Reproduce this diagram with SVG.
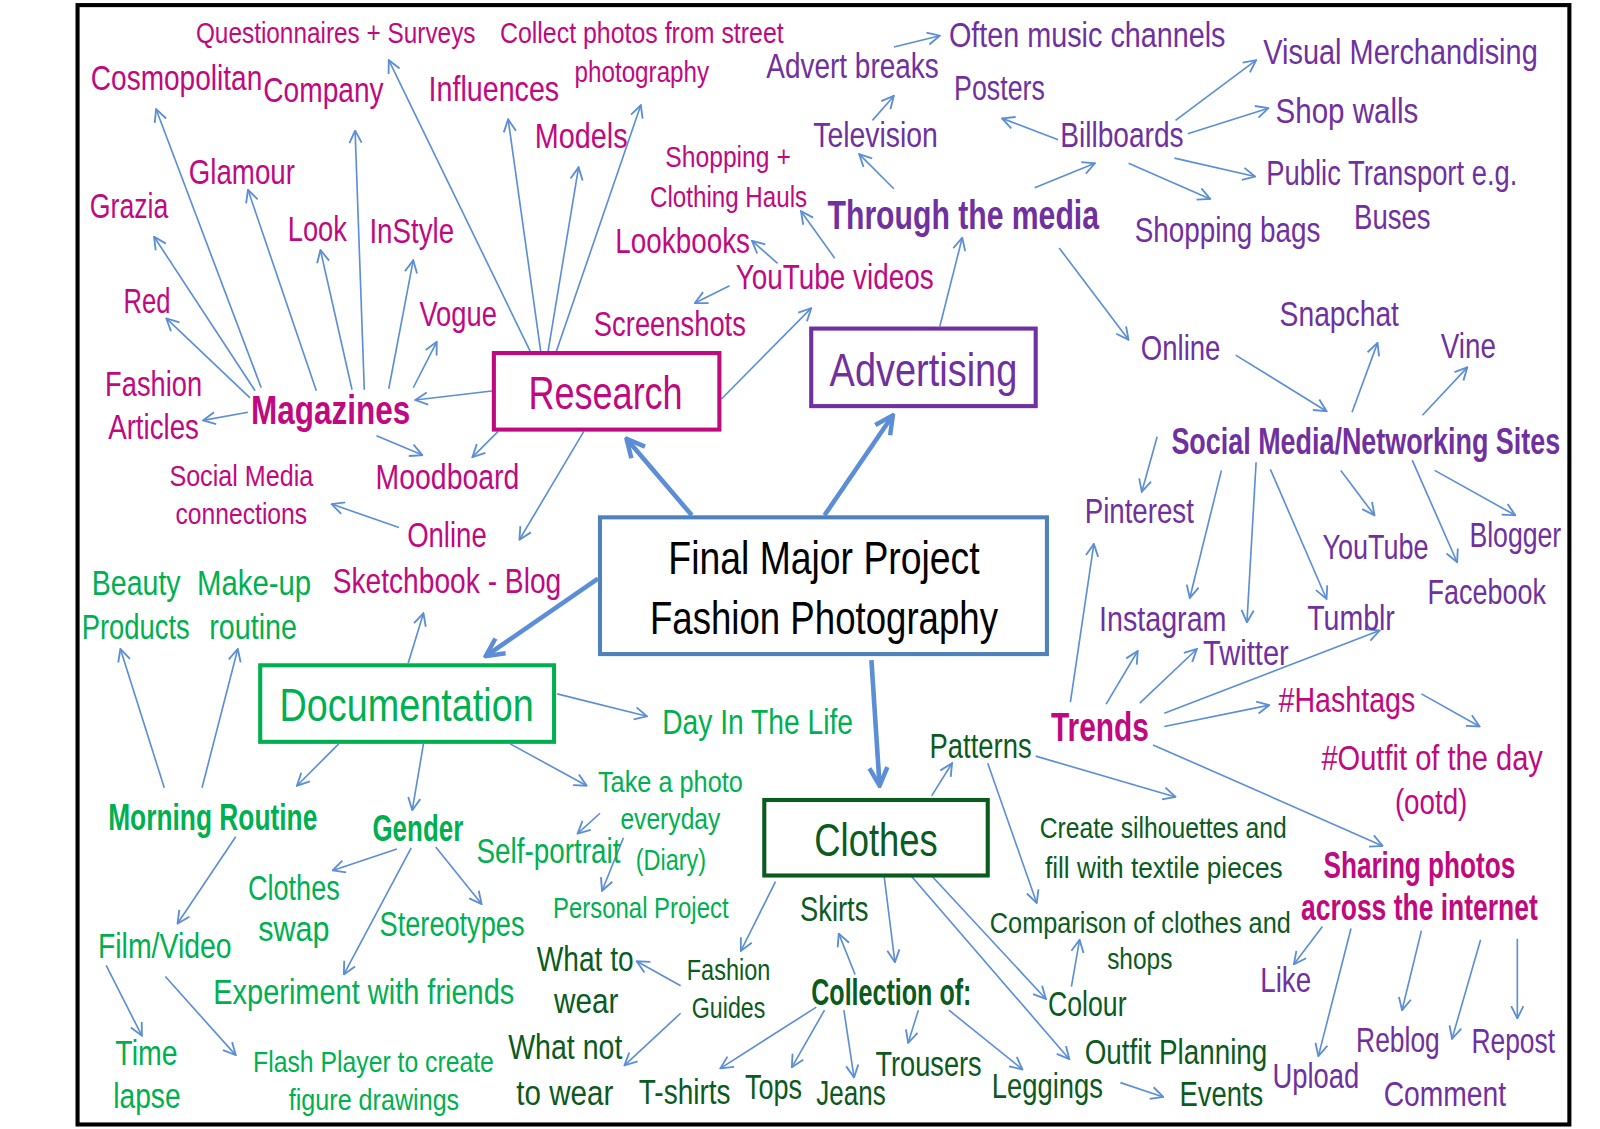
<svg xmlns="http://www.w3.org/2000/svg" width="1600" height="1129" viewBox="0 0 1600 1129">
<style>
text{font-family:'Liberation Sans Narrow','Liberation Sans',Arial,sans-serif;}
.m{fill:#C0097F}.p{fill:#7030A0}.g{fill:#00B050}.d{fill:#0B5A1E}.k{fill:#000}
.s29{font-size:29px}.s34{font-size:34px}.s36{font-size:36px}.s40{font-size:40px}.s46{font-size:46px}
.b{font-weight:bold}
.c line{stroke:#5B8ED6;stroke-width:1.6;fill:none;marker-end:url(#ah)}
.c line.t{stroke-width:4.5;marker-end:url(#ahb)}
.box{fill:#fff;stroke-width:4}
</style>
<defs>
<marker id="ah" viewBox="0 0 14 14" refX="13" refY="7" markerWidth="14" markerHeight="14" markerUnits="userSpaceOnUse" orient="auto"><path d="M1,1 L13,7 L1,13" fill="none" stroke="#5B8ED6" stroke-width="1.8"/></marker>
<marker id="ahb" viewBox="0 0 20 20" refX="18" refY="10" markerWidth="22" markerHeight="22" markerUnits="userSpaceOnUse" orient="auto"><path d="M2,2 L18,10 L2,18" fill="none" stroke="#5B8ED6" stroke-width="4"/></marker>
</defs>
<rect x="0" y="0" width="1600" height="1129" fill="#fff"/>
<g id="diagram" transform="scale(1.0204)">
<rect x="76" y="5" width="1462" height="1097" fill="none" stroke="#000" stroke-width="4"/>

<g id="connectors" class="c">
<line class="t" x1="678" y1="505" x2="614" y2="430"/>
<line class="t" x1="808" y1="505" x2="875" y2="407"/>
<line class="t" x1="586" y1="567" x2="476" y2="643"/>
<line class="t" x1="854" y1="647" x2="862" y2="770"/>
<line x1="520" y1="345" x2="381" y2="59"/>
<line x1="530" y1="345" x2="498" y2="117"/>
<line x1="537" y1="345" x2="567" y2="164"/>
<line x1="545" y1="345" x2="628" y2="103"/>
<line x1="484" y1="383" x2="407" y2="392"/>
<line x1="488" y1="423" x2="463" y2="448"/>
<line x1="572" y1="423" x2="509" y2="529"/>
<line x1="707" y1="391" x2="795" y2="302"/>
<line x1="256" y1="380" x2="153" y2="107"/>
<line x1="250" y1="383" x2="151" y2="232"/>
<line x1="245" y1="390" x2="163" y2="312"/>
<line x1="243" y1="404" x2="199" y2="412"/>
<line x1="310" y1="383" x2="243" y2="186"/>
<line x1="357" y1="382" x2="348" y2="128"/>
<line x1="345" y1="382" x2="314" y2="245"/>
<line x1="381" y1="381" x2="405" y2="255"/>
<line x1="405" y1="380" x2="428" y2="335"/>
<line x1="369" y1="427" x2="414" y2="446"/>
<line x1="391" y1="517" x2="325" y2="494"/>
<line x1="762" y1="258" x2="737" y2="236"/>
<line x1="818" y1="253" x2="785" y2="207"/>
<line x1="715" y1="280" x2="681" y2="297"/>
<line x1="921" y1="320" x2="943" y2="233"/>
<line x1="876" y1="185" x2="842" y2="151"/>
<line x1="855" y1="118" x2="876" y2="94"/>
<line x1="876" y1="46" x2="921" y2="35"/>
<line x1="1014" y1="184" x2="1073" y2="160"/>
<line x1="1037" y1="137" x2="982" y2="116"/>
<line x1="1152" y1="118" x2="1231" y2="59"/>
<line x1="1164" y1="131" x2="1243" y2="106"/>
<line x1="1151" y1="155" x2="1230" y2="173"/>
<line x1="1106" y1="160" x2="1186" y2="195"/>
<line x1="1038" y1="243" x2="1106" y2="333"/>
<line x1="1211" y1="348" x2="1300" y2="403"/>
<line x1="1325" y1="404" x2="1350" y2="336"/>
<line x1="1394" y1="407" x2="1438" y2="360"/>
<line x1="1134" y1="428" x2="1119" y2="482"/>
<line x1="1197" y1="461" x2="1166" y2="586"/>
<line x1="1231" y1="453" x2="1222" y2="610"/>
<line x1="1245" y1="460" x2="1300" y2="587"/>
<line x1="1314" y1="461" x2="1347" y2="505"/>
<line x1="1384" y1="451" x2="1428" y2="551"/>
<line x1="1406" y1="461" x2="1485" y2="505"/>
<line x1="1049" y1="688" x2="1072" y2="533"/>
<line x1="1084" y1="690" x2="1115" y2="638"/>
<line x1="1117" y1="689" x2="1173" y2="636"/>
<line x1="1141" y1="699" x2="1352" y2="618"/>
<line x1="1141" y1="712" x2="1244" y2="691"/>
<line x1="1393" y1="680" x2="1450" y2="712"/>
<line x1="1130" y1="730" x2="1355" y2="829"/>
<line x1="1015" y1="741" x2="1152" y2="781"/>
<line x1="968" y1="748" x2="1016" y2="885"/>
<line x1="913" y1="780" x2="933" y2="748"/>
<line x1="760" y1="864" x2="726" y2="932"/>
<line x1="866" y1="855" x2="877" y2="943"/>
<line x1="838" y1="955" x2="822" y2="915"/>
<line x1="890" y1="855" x2="1048" y2="1038"/>
<line x1="910" y1="855" x2="1025" y2="979"/>
<line x1="1050" y1="967" x2="1058" y2="921"/>
<line x1="667" y1="966" x2="624" y2="942"/>
<line x1="667" y1="993" x2="612" y2="1044"/>
<line x1="800" y1="987" x2="706" y2="1047"/>
<line x1="808" y1="990" x2="776" y2="1046"/>
<line x1="827" y1="990" x2="837" y2="1056"/>
<line x1="900" y1="990" x2="890" y2="1022"/>
<line x1="930" y1="990" x2="1002" y2="1048"/>
<line x1="1098" y1="1061" x2="1140" y2="1075"/>
<line x1="1296" y1="908" x2="1268" y2="945"/>
<line x1="1324" y1="910" x2="1292" y2="1035"/>
<line x1="1393" y1="912" x2="1374" y2="990"/>
<line x1="1451" y1="921" x2="1423" y2="1018"/>
<line x1="1487" y1="920" x2="1487" y2="998"/>
<line x1="546" y1="680" x2="634" y2="702"/>
<line x1="332" y1="729" x2="291" y2="770"/>
<line x1="415" y1="729" x2="404" y2="794"/>
<line x1="500" y1="729" x2="575" y2="770"/>
<line x1="400" y1="650" x2="415" y2="601"/>
<line x1="588" y1="797" x2="566" y2="817"/>
<line x1="611" y1="821" x2="590" y2="873"/>
<line x1="161" y1="772" x2="118" y2="636"/>
<line x1="198" y1="772" x2="233" y2="636"/>
<line x1="231" y1="820" x2="174" y2="905"/>
<line x1="389" y1="832" x2="326" y2="853"/>
<line x1="403" y1="831" x2="337" y2="955"/>
<line x1="427" y1="830" x2="472" y2="886"/>
<line x1="104" y1="946" x2="139" y2="1015"/>
<line x1="162" y1="957" x2="231" y2="1034"/>
</g>

<g id="n-center"><rect class="box" x="588" y="507" width="438" height="134" stroke="#4F81BD"/>
<text class="k s46" x="655" y="563" textLength="305" lengthAdjust="spacingAndGlyphs">Final Major Project</text>
<text class="k s46" x="637" y="621" textLength="341" lengthAdjust="spacingAndGlyphs">Fashion Photography</text></g>
<g id="n-research"><rect class="box" x="484" y="346" width="221" height="75" stroke="#C0097F"/>
<text class="m s46" x="518" y="401" textLength="151" lengthAdjust="spacingAndGlyphs">Research</text></g>
<g id="n-advertising"><rect class="box" x="795" y="322" width="220" height="76" stroke="#7030A0"/>
<text class="p s46" x="813" y="378" textLength="184" lengthAdjust="spacingAndGlyphs">Advertising</text></g>
<g id="n-documentation"><rect class="box" x="255" y="652" width="288" height="75" stroke="#00B050"/>
<text class="g s46" x="274" y="707" textLength="249" lengthAdjust="spacingAndGlyphs">Documentation</text></g>
<g id="n-clothes"><rect class="box" x="749" y="784" width="219" height="74" stroke="#0B5A1E"/>
<text class="d s46" x="798" y="839" textLength="121" lengthAdjust="spacingAndGlyphs">Clothes</text></g>

<g id="n-questionnaires"><text class="m s29" x="192" y="42" textLength="274" lengthAdjust="spacingAndGlyphs">Questionnaires + Surveys</text></g>
<g id="n-collect"><text class="m s29" x="490" y="42" textLength="278" lengthAdjust="spacingAndGlyphs">Collect photos from street</text>
<text class="m s29" x="563" y="80" textLength="132" lengthAdjust="spacingAndGlyphs">photography</text></g>
<g id="n-cosmopolitan"><text class="m s34" x="89" y="88" textLength="168" lengthAdjust="spacingAndGlyphs">Cosmopolitan</text></g>
<g id="n-company"><text class="m s34" x="258" y="100" textLength="118" lengthAdjust="spacingAndGlyphs">Company</text></g>
<g id="n-influences"><text class="m s34" x="420" y="99" textLength="128" lengthAdjust="spacingAndGlyphs">Influences</text></g>
<g id="n-models"><text class="m s34" x="524" y="145" textLength="91" lengthAdjust="spacingAndGlyphs">Models</text></g>
<g id="n-glamour"><text class="m s34" x="185" y="180" textLength="104" lengthAdjust="spacingAndGlyphs">Glamour</text></g>
<g id="n-grazia"><text class="m s34" x="88" y="214" textLength="77" lengthAdjust="spacingAndGlyphs">Grazia</text></g>
<g id="n-look"><text class="m s34" x="282" y="236" textLength="58" lengthAdjust="spacingAndGlyphs">Look</text></g>
<g id="n-instyle"><text class="m s34" x="362" y="238" textLength="83" lengthAdjust="spacingAndGlyphs">InStyle</text></g>
<g id="n-red"><text class="m s34" x="121" y="307" textLength="46" lengthAdjust="spacingAndGlyphs">Red</text></g>
<g id="n-vogue"><text class="m s34" x="411" y="319" textLength="76" lengthAdjust="spacingAndGlyphs">Vogue</text></g>
<g id="n-fashion-articles"><text class="m s34" x="103" y="388" textLength="95" lengthAdjust="spacingAndGlyphs">Fashion</text>
<text class="m s34" x="106" y="430" textLength="89" lengthAdjust="spacingAndGlyphs">Articles</text></g>
<g id="n-magazines"><text class="m s40 b" x="246" y="416" textLength="156" lengthAdjust="spacingAndGlyphs">Magazines</text></g>
<g id="n-moodboard"><text class="m s34" x="368" y="479" textLength="141" lengthAdjust="spacingAndGlyphs">Moodboard</text></g>
<g id="n-socialconn"><text class="m s29" x="166" y="476" textLength="141" lengthAdjust="spacingAndGlyphs">Social Media</text>
<text class="m s29" x="172" y="514" textLength="129" lengthAdjust="spacingAndGlyphs">connections</text></g>
<g id="n-online-r"><text class="m s34" x="399" y="536" textLength="78" lengthAdjust="spacingAndGlyphs">Online</text></g>
<g id="n-sketchbook"><text class="m s34" x="326" y="581" textLength="224" lengthAdjust="spacingAndGlyphs">Sketchbook - Blog</text></g>
<g id="n-screenshots"><text class="m s34" x="582" y="329" textLength="149" lengthAdjust="spacingAndGlyphs">Screenshots</text></g>
<g id="n-hauls"><text class="m s29" x="652" y="164" textLength="123" lengthAdjust="spacingAndGlyphs">Shopping +</text>
<text class="m s29" x="637" y="203" textLength="154" lengthAdjust="spacingAndGlyphs">Clothing Hauls</text></g>
<g id="n-lookbooks"><text class="m s34" x="603" y="248" textLength="132" lengthAdjust="spacingAndGlyphs">Lookbooks</text></g>
<g id="n-youtubevideos"><text class="m s34" x="721" y="283" textLength="194" lengthAdjust="spacingAndGlyphs">YouTube videos</text></g>

<g id="n-often"><text class="p s34" x="930" y="46" textLength="271" lengthAdjust="spacingAndGlyphs">Often music channels</text></g>
<g id="n-advert"><text class="p s34" x="751" y="76" textLength="169" lengthAdjust="spacingAndGlyphs">Advert breaks</text></g>
<g id="n-visual"><text class="p s34" x="1238" y="63" textLength="269" lengthAdjust="spacingAndGlyphs">Visual Merchandising</text></g>
<g id="n-posters"><text class="p s34" x="935" y="98" textLength="89" lengthAdjust="spacingAndGlyphs">Posters</text></g>
<g id="n-shopwalls"><text class="p s34" x="1250" y="121" textLength="140" lengthAdjust="spacingAndGlyphs">Shop walls</text></g>
<g id="n-television"><text class="p s34" x="797" y="144" textLength="122" lengthAdjust="spacingAndGlyphs">Television</text></g>
<g id="n-billboards"><text class="p s34" x="1039" y="144" textLength="121" lengthAdjust="spacingAndGlyphs">Billboards</text></g>
<g id="n-transport"><text class="p s34" x="1241" y="181" textLength="246" lengthAdjust="spacingAndGlyphs">Public Transport e.g.</text>
<text class="p s34" x="1327" y="224" textLength="75" lengthAdjust="spacingAndGlyphs">Buses</text></g>
<g id="n-media"><text class="p s40 b" x="811" y="224" textLength="266" lengthAdjust="spacingAndGlyphs">Through the media</text></g>
<g id="n-bags"><text class="p s34" x="1112" y="237" textLength="182" lengthAdjust="spacingAndGlyphs">Shopping bags</text></g>
<g id="n-snapchat"><text class="p s34" x="1254" y="319" textLength="117" lengthAdjust="spacingAndGlyphs">Snapchat</text></g>
<g id="n-online-a"><text class="p s34" x="1118" y="353" textLength="78" lengthAdjust="spacingAndGlyphs">Online</text></g>
<g id="n-vine"><text class="p s34" x="1412" y="351" textLength="54" lengthAdjust="spacingAndGlyphs">Vine</text></g>
<g id="n-social"><text class="p s36 b" x="1148" y="445" textLength="381" lengthAdjust="spacingAndGlyphs">Social Media/Networking Sites</text></g>
<g id="n-pinterest"><text class="p s34" x="1063" y="513" textLength="107" lengthAdjust="spacingAndGlyphs">Pinterest</text></g>
<g id="n-youtube"><text class="p s34" x="1296" y="548" textLength="104" lengthAdjust="spacingAndGlyphs">YouTube</text></g>
<g id="n-blogger"><text class="p s34" x="1440" y="536" textLength="90" lengthAdjust="spacingAndGlyphs">Blogger</text></g>
<g id="n-facebook"><text class="p s34" x="1399" y="592" textLength="116" lengthAdjust="spacingAndGlyphs">Facebook</text></g>
<g id="n-instagram"><text class="p s34" x="1077" y="618" textLength="125" lengthAdjust="spacingAndGlyphs">Instagram</text></g>
<g id="n-tumblr"><text class="p s34" x="1281" y="617" textLength="86" lengthAdjust="spacingAndGlyphs">Tumblr</text></g>
<g id="n-twitter"><text class="p s34" x="1179" y="652" textLength="84" lengthAdjust="spacingAndGlyphs">Twitter</text></g>
<g id="n-trends"><text class="m s40 b" x="1030" y="726" textLength="96" lengthAdjust="spacingAndGlyphs">Trends</text></g>
<g id="n-hashtags"><text class="m s34" x="1253" y="698" textLength="134" lengthAdjust="spacingAndGlyphs">#Hashtags</text></g>
<g id="n-ootd"><text class="m s34" x="1295" y="755" textLength="217" lengthAdjust="spacingAndGlyphs">#Outfit of the day</text>
<text class="m s34" x="1367" y="798" textLength="71" lengthAdjust="spacingAndGlyphs">(ootd)</text></g>
<g id="n-sharing"><text class="m s36 b" x="1297" y="860" textLength="188" lengthAdjust="spacingAndGlyphs">Sharing photos</text>
<text class="m s36 b" x="1275" y="902" textLength="232" lengthAdjust="spacingAndGlyphs">across the internet</text></g>
<g id="n-like"><text class="p s34" x="1235" y="972" textLength="50" lengthAdjust="spacingAndGlyphs">Like</text></g>
<g id="n-upload"><text class="p s34" x="1247" y="1066" textLength="85" lengthAdjust="spacingAndGlyphs">Upload</text></g>
<g id="n-reblog"><text class="p s34" x="1329" y="1031" textLength="82" lengthAdjust="spacingAndGlyphs">Reblog</text></g>
<g id="n-repost"><text class="p s34" x="1442" y="1032" textLength="82" lengthAdjust="spacingAndGlyphs">Repost</text></g>
<g id="n-comment"><text class="p s34" x="1356" y="1084" textLength="120" lengthAdjust="spacingAndGlyphs">Comment</text></g>

<g id="n-beauty"><text class="g s34" x="90" y="583" textLength="87" lengthAdjust="spacingAndGlyphs">Beauty</text>
<text class="g s34" x="80" y="626" textLength="106" lengthAdjust="spacingAndGlyphs">Products</text></g>
<g id="n-makeup"><text class="g s34" x="193" y="583" textLength="112" lengthAdjust="spacingAndGlyphs">Make-up</text>
<text class="g s34" x="205" y="626" textLength="86" lengthAdjust="spacingAndGlyphs">routine</text></g>
<g id="n-dayinlife"><text class="g s34" x="649" y="719" textLength="187" lengthAdjust="spacingAndGlyphs">Day In The Life</text></g>
<g id="n-takephoto"><text class="g s29" x="586" y="776" textLength="142" lengthAdjust="spacingAndGlyphs">Take a photo</text>
<text class="g s29" x="608" y="812" textLength="98" lengthAdjust="spacingAndGlyphs">everyday</text>
<text class="g s29" x="623" y="853" textLength="69" lengthAdjust="spacingAndGlyphs">(Diary)</text></g>
<g id="n-morning"><text class="g s36 b" x="106" y="813" textLength="205" lengthAdjust="spacingAndGlyphs">Morning Routine</text></g>
<g id="n-gender"><text class="g s36 b" x="365" y="824" textLength="89" lengthAdjust="spacingAndGlyphs">Gender</text></g>
<g id="n-selfportrait"><text class="g s34" x="467" y="846" textLength="141" lengthAdjust="spacingAndGlyphs">Self-portrait</text></g>
<g id="n-clothesswap"><text class="g s34" x="243" y="882" textLength="90" lengthAdjust="spacingAndGlyphs">Clothes</text>
<text class="g s34" x="253" y="922" textLength="70" lengthAdjust="spacingAndGlyphs">swap</text></g>
<g id="n-personal"><text class="g s29" x="542" y="900" textLength="172" lengthAdjust="spacingAndGlyphs">Personal Project</text></g>
<g id="n-stereotypes"><text class="g s34" x="372" y="917" textLength="142" lengthAdjust="spacingAndGlyphs">Stereotypes</text></g>
<g id="n-film"><text class="g s34" x="96" y="939" textLength="131" lengthAdjust="spacingAndGlyphs">Film/Video</text></g>
<g id="n-experiment"><text class="g s34" x="209" y="984" textLength="295" lengthAdjust="spacingAndGlyphs">Experiment with friends</text></g>
<g id="n-timelapse"><text class="g s34" x="113" y="1044" textLength="61" lengthAdjust="spacingAndGlyphs">Time</text>
<text class="g s34" x="111" y="1086" textLength="66" lengthAdjust="spacingAndGlyphs">lapse</text></g>
<g id="n-flash"><text class="g s29" x="248" y="1051" textLength="236" lengthAdjust="spacingAndGlyphs">Flash Player to create</text>
<text class="g s29" x="283" y="1088" textLength="167" lengthAdjust="spacingAndGlyphs">figure drawings</text></g>

<g id="n-patterns"><text class="d s34" x="911" y="743" textLength="100" lengthAdjust="spacingAndGlyphs">Patterns</text></g>
<g id="n-silhouettes"><text class="d s29" x="1019" y="821" textLength="242" lengthAdjust="spacingAndGlyphs">Create silhouettes and</text>
<text class="d s29" x="1024" y="860" textLength="233" lengthAdjust="spacingAndGlyphs">fill with textile pieces</text></g>
<g id="n-comparison"><text class="d s29" x="970" y="914" textLength="295" lengthAdjust="spacingAndGlyphs">Comparison of clothes and</text>
<text class="d s29" x="1085" y="950" textLength="64" lengthAdjust="spacingAndGlyphs">shops</text></g>
<g id="n-skirts"><text class="d s34" x="784" y="903" textLength="67" lengthAdjust="spacingAndGlyphs">Skirts</text></g>
<g id="n-whatto"><text class="d s34" x="526" y="952" textLength="95" lengthAdjust="spacingAndGlyphs">What to</text>
<text class="d s34" x="543" y="993" textLength="63" lengthAdjust="spacingAndGlyphs">wear</text></g>
<g id="n-guides"><text class="d s29" x="673" y="960" textLength="82" lengthAdjust="spacingAndGlyphs">Fashion</text>
<text class="d s29" x="678" y="998" textLength="72" lengthAdjust="spacingAndGlyphs">Guides</text></g>
<g id="n-whatnot"><text class="d s34" x="498" y="1038" textLength="112" lengthAdjust="spacingAndGlyphs">What not</text>
<text class="d s34" x="506" y="1083" textLength="95" lengthAdjust="spacingAndGlyphs">to wear</text></g>
<g id="n-collection"><text class="d s36 b" x="795" y="985" textLength="157" lengthAdjust="spacingAndGlyphs">Collection of:</text></g>
<g id="n-colour"><text class="d s34" x="1027" y="996" textLength="77" lengthAdjust="spacingAndGlyphs">Colour</text></g>
<g id="n-outfit"><text class="d s34" x="1063" y="1043" textLength="179" lengthAdjust="spacingAndGlyphs">Outfit Planning</text></g>
<g id="n-tshirts"><text class="d s34" x="626" y="1082" textLength="90" lengthAdjust="spacingAndGlyphs">T-shirts</text></g>
<g id="n-tops"><text class="d s34" x="730" y="1077" textLength="56" lengthAdjust="spacingAndGlyphs">Tops</text></g>
<g id="n-jeans"><text class="d s34" x="800" y="1083" textLength="68" lengthAdjust="spacingAndGlyphs">Jeans</text></g>
<g id="n-trousers"><text class="d s34" x="858" y="1054" textLength="104" lengthAdjust="spacingAndGlyphs">Trousers</text></g>
<g id="n-leggings"><text class="d s34" x="972" y="1076" textLength="109" lengthAdjust="spacingAndGlyphs">Leggings</text></g>
<g id="n-events"><text class="d s34" x="1156" y="1084" textLength="82" lengthAdjust="spacingAndGlyphs">Events</text></g>
</g>
</svg>
